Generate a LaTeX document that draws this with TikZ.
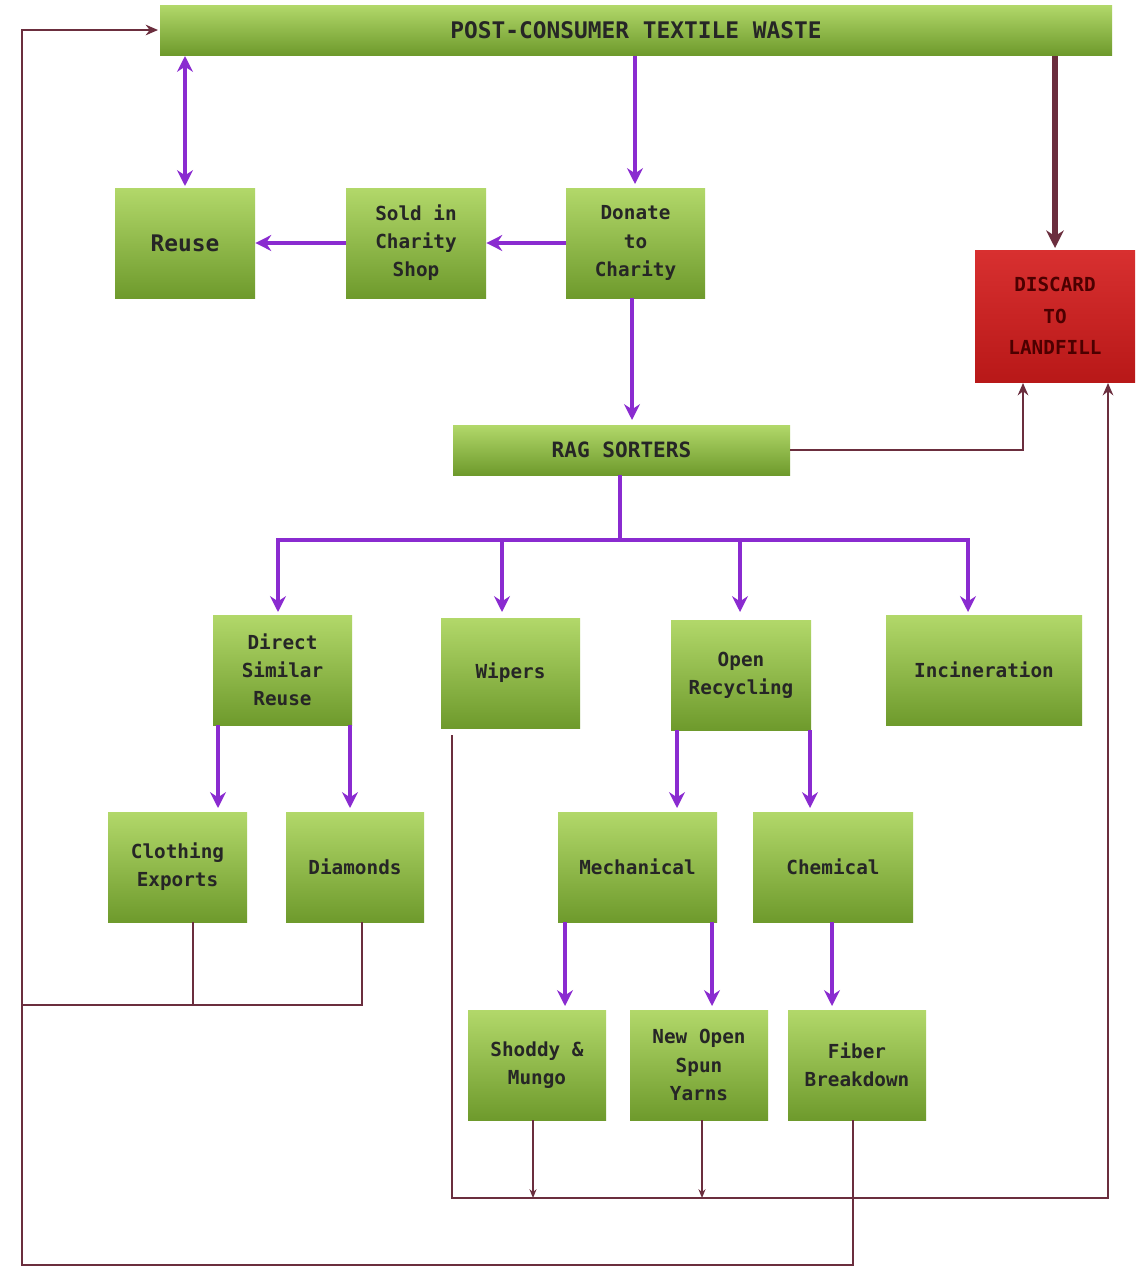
\documentclass[tikz,border=0pt]{standalone}
\usepackage{fontspec}
\setmonofont{DejaVu Sans Mono}
\usetikzlibrary{arrows.meta}
\definecolor{gtop}{HTML}{B2D86A}
\definecolor{gbot}{HTML}{6E9A2C}
\definecolor{pur}{HTML}{8A2BD0}
\definecolor{mar}{HTML}{6B2E3E}
\definecolor{rtop}{HTML}{D83030}
\definecolor{rbot}{HTML}{B81818}
\begin{document}
\begin{tikzpicture}[x=0.02cm,y=-0.02cm,
  gfill/.style={top color=gtop,bottom color=gbot,draw=none},
  gtxt/.style={font=\ttfamily\bfseries\fontsize{11}{16}\selectfont,align=center,text=black!85,inner sep=0pt},
  parr/.style={pur,line width=2.6pt,-{Stealth[length=9pt,width=9pt]}},
  pln/.style={pur,line width=2.6pt},
  marr/.style={mar,line width=1.3pt,-{Stealth[length=7pt,width=6pt]}},
  mln/.style={mar,line width=1.3pt}]
\useasboundingbox (0,0) rectangle (1146,1268);
\fill[white] (0,0) rectangle (1146,1268);
\newcommand\bx[6]{\path[gfill] (#2,#3) rectangle (#4,#5); \node[gtxt,minimum width={(#4-#2)*0.02cm},minimum height={(#5-#3)*0.02cm}] (#1) at ({(#2+#4)/2},{(#3+#5)/2}) {#6};}
\bx{top}{160}{5}{1112}{55}{\fontsize{13}{14}\selectfont POST-CONSUMER TEXTILE WASTE}
\bx{reuse}{115}{188}{255}{298}{\fontsize{13}{14}\selectfont Reuse}
\bx{sold}{346}{188}{486}{298}{Sold in\\Charity\\Shop}
\bx{donate}{566}{188}{705}{298}{Donate\\to\\Charity}
\path[top color=rtop,bottom color=rbot] (975,250) rectangle (1135,382);
\node[gtxt,font=\ttfamily\bfseries\fontsize{11}{18}\selectfont,text=black!70!red,minimum width=3.2cm,minimum height=2.64cm] (disc) at (1055,316) {DISCARD\\TO\\LANDFILL};
\bx{rag}{453}{425}{790}{475}{\fontsize{12}{13}\selectfont RAG SORTERS}
\bx{direct}{213}{615}{352}{725}{Direct\\Similar\\Reuse}
\bx{wipers}{441}{618}{580}{728}{Wipers}
\bx{open}{671}{620}{811}{730}{Open\\Recycling}
\bx{incin}{886}{615}{1082}{725}{Incineration}
\bx{cloth}{108}{812}{247}{922}{Clothing\\Exports}
\bx{diam}{286}{812}{424}{922}{Diamonds}
\bx{mech}{558}{812}{717}{922}{Mechanical}
\bx{chem}{753}{812}{913}{922}{Chemical}
\bx{shod}{468}{1010}{606}{1120}{Shoddy \&\\Mungo}
\bx{yarn}{630}{1010}{768}{1120}{New Open\\Spun\\Yarns}
\bx{fiber}{788}{1010}{926}{1120}{Fiber\\Breakdown}
% purple
\draw[pur,line width=2.6pt,{Stealth[length=9pt,width=9pt]}-{Stealth[length=9pt,width=9pt]}] (185,56) -- (185,186);
\draw[parr] (635,56) -- (635,184);
\draw[parr] (donate.west) -- (sold.east);
\draw[parr] (sold.west) -- (reuse.east);
\draw[parr] (632,298) -- (632,420);
\draw[pln] (620,475) -- (620,540);
\draw[pln] (276,540) -- (970,540);
\foreach \x in {278,502,740,968} \draw[parr] (\x,538) -- (\x,612);
\draw[parr] (218,725) -- (218,808);
\draw[parr] (350,725) -- (350,808);
\draw[parr] (677,730) -- (677,808);
\draw[parr] (810,730) -- (810,808);
\draw[parr] (565,922) -- (565,1006);
\draw[parr] (712,922) -- (712,1006);
\draw[parr] (832,922) -- (832,1006);
% maroon
\draw[mar,line width=3pt,-{Stealth[length=10pt,width=10pt]}] (1055,56) -- (1055,248);
\draw[marr] (rag.east) -- (1023,450) -- (1023,383);
\draw[marr] (452,735) -- (452,1198) -- (1108,1198) -- (1108,383);
\draw[mar,line width=1pt,-{Stealth[length=5pt,width=4pt]}] (533,1120) -- (533,1198);
\draw[mar,line width=1pt,-{Stealth[length=5pt,width=4pt]}] (702,1120) -- (702,1198);
\draw[marr] (853,1120) -- (853,1265) -- (22,1265) -- (22,30) -- (158,30);
\draw[mln] (193,922) -- (193,1005);
\draw[mln] (362,922) -- (362,1005) -- (22,1005);
\end{tikzpicture}
\end{document}
